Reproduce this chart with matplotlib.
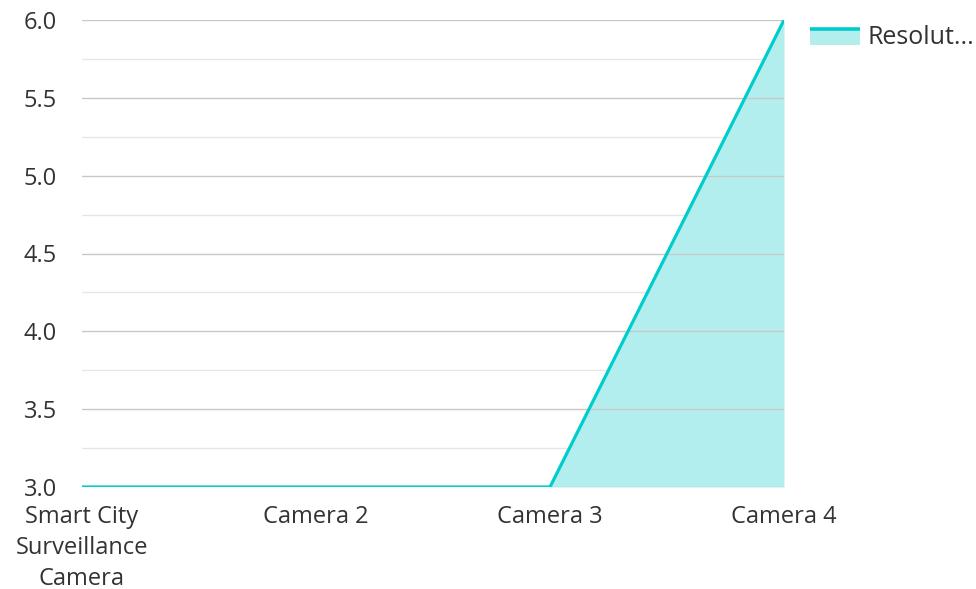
import matplotlib
matplotlib.use("Agg")
import matplotlib.pyplot as plt
import numpy as np
from matplotlib.lines import Line2D
from matplotlib.patches import Patch, Rectangle
from matplotlib.legend_handler import HandlerBase

categories = ["Smart City\nSurveillance\nCamera", "Camera 2", "Camera 3", "Camera 4"]
values = [3, 3, 3, 6]
series_name = "Resolut..."

plt.rcParams['font.family'] = ['Open Sans', 'DejaVu Sans']

fig = plt.figure(figsize=(9.76, 5.89), dpi=100)
ax = fig.add_axes([82/976, 1-487/589, (784-82)/976, (487-20)/589])

x = np.arange(len(categories))
line_color = "#00CCCC"
fill_color = "#B2EEEE"

ax.set_xlim(0, len(categories)-1)
ax.set_ylim(3.0, 6.0)

major = np.arange(3.0, 6.01, 0.5)
minor = np.arange(3.25, 6.0, 0.5)
for y in minor:
    ax.axhline(y, color="#e6e6e6", lw=1.0, zorder=0)
for y in major:
    ax.axhline(y, color="#c8c8c8", lw=1.0, zorder=2)

ax.fill_between(x, values, 3.0, color=fill_color, lw=0, zorder=1, alpha=1)
ax.plot(x, values, color=line_color, lw=2.3, zorder=3, solid_capstyle='butt')

ax.set_yticks(major)
ax.set_yticklabels([f"{v:.1f}" for v in major])
ax.set_xticks(x)
ax.set_xticklabels(categories, linespacing=1.38)
ax.tick_params(axis='both', length=0, labelsize=17, colors="#333333")
ax.tick_params(axis='y', pad=18)
ax.tick_params(axis='x', pad=13)
for s in ax.spines.values():
    s.set_visible(False)


class AreaHandler(HandlerBase):
    def create_artists(self, legend, orig, xdescent, ydescent, width, height, fontsize, trans):
        h = height * 0.95
        y0 = -ydescent - 0.5
        r = Rectangle((-xdescent, y0), width, h, facecolor=fill_color, edgecolor='none', transform=trans)
        ln = Line2D([-xdescent, -xdescent + width], [y0 + h, y0 + h], color=line_color, lw=2.6,
                    solid_capstyle='butt', transform=trans)
        return [r, ln]


handle = Patch(facecolor=fill_color)
fig.legend([handle], [series_name], loc='upper left', bbox_to_anchor=(787/976, 1-3/589),
           frameon=False, fontsize=18, labelcolor="#333333", handlelength=2.0, handletextpad=0.33,
           handler_map={Patch: AreaHandler()})

fig.savefig("out.png", dpi=100)
